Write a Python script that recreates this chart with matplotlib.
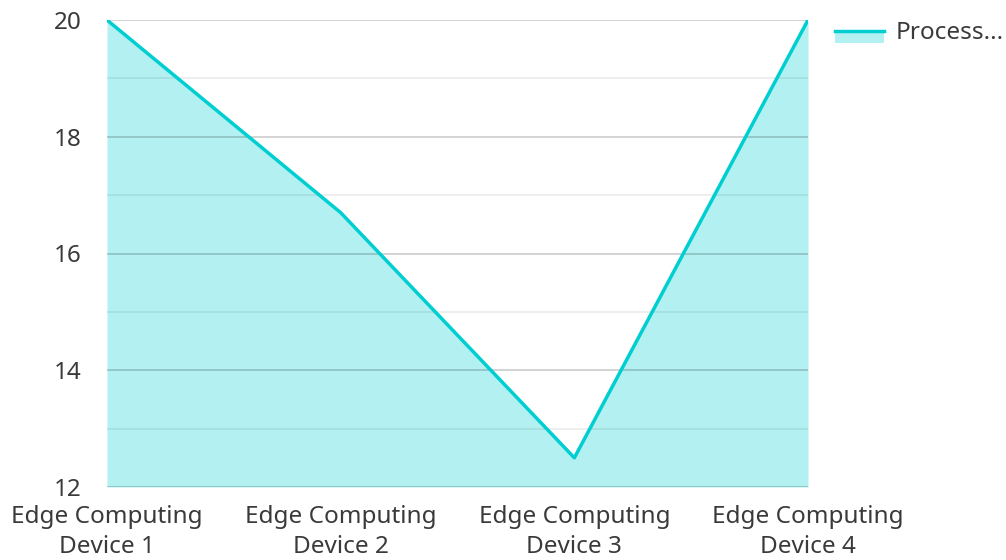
import numpy as np
import matplotlib.pyplot as plt
from matplotlib.lines import Line2D
from matplotlib.patches import Rectangle
from matplotlib.legend_handler import HandlerBase

plt.rcParams['font.family'] = ['Noto Sans', 'DejaVu Sans']

# data
devices = ["Edge Computing\nDevice 1", "Edge Computing\nDevice 2",
           "Edge Computing\nDevice 3", "Edge Computing\nDevice 4"]
processing = [20, 16.7, 12.5, 20]
series_name = "Process..."

line_color = '#00CED1'
fill_color = '#B2F0F1'


class AreaHandler(HandlerBase):
    # line on top, filled band underneath, like the area legend key
    def create_artists(self, legend, orig, xd, yd, width, height, fontsize, trans):
        mid = yd + height * 0.45
        rect = Rectangle((xd, yd - height * 0.25), width, mid - yd + height * 0.25,
                         facecolor=fill_color, edgecolor='none', transform=trans)
        ln = Line2D([xd, xd + width], [mid, mid], color=line_color, linewidth=2.5,
                    transform=trans)
        return [rect, ln]


fig = plt.figure(figsize=(10.06, 5.6), dpi=100)
ax = fig.add_axes([107 / 1006, 1 - 487 / 560, (808 - 107) / 1006, (487 - 20) / 560])

x = np.arange(len(devices))
ax.fill_between(x, processing, 12, color=fill_color, linewidth=0, zorder=1)
ax.plot(x, processing, color=line_color, linewidth=2.5, zorder=3)

ax.set_xlim(0, len(devices) - 1)
ax.set_ylim(12, 20)
ax.set_yticks([12, 14, 16, 18, 20])
ax.set_yticks([13, 15, 17, 19], minor=True)
ax.set_xticks(x)
ax.set_xticklabels(devices)

ax.grid(axis='y', which='major', color='#000000', alpha=0.2, linewidth=1.2, zorder=2)
ax.grid(axis='y', which='minor', color='#000000', alpha=0.08, linewidth=1.2, zorder=2)
for s in ax.spines.values():
    s.set_visible(False)

ax.tick_params(axis='both', which='both', length=0, labelsize=17.5, labelcolor='#3a3a3a')
ax.tick_params(axis='y', pad=18)
ax.tick_params(axis='x', pad=13)
for lbl in ax.get_xticklabels():
    lbl.set_linespacing(1.35)

fig.legend([object()], [series_name], handler_map={object: AreaHandler()},
           loc='upper left', bbox_to_anchor=(835 / 1006, 1 - 21 / 560),
           frameon=False, fontsize=17.5, labelcolor='#3a3a3a',
           handlelength=2.0, handletextpad=0.5, borderaxespad=0, borderpad=0)

fig.savefig('out.png', dpi=100)
